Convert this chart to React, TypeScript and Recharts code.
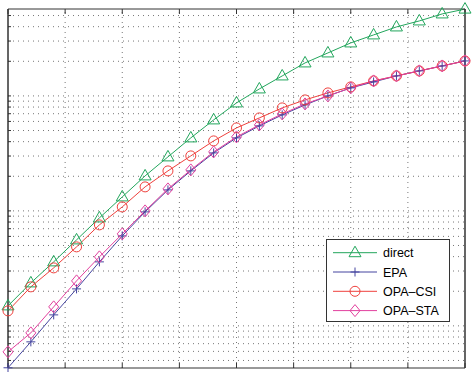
import React from 'react';
import { LineChart, Line, XAxis, YAxis, Legend, ReferenceLine } from 'recharts';

const xValues = [0, 2, 4, 6, 8, 10, 12, 14, 16, 18, 20, 22, 24, 26, 28, 30, 32, 34, 36, 38, 40];
const direct = [0.01492, 0.02365, 0.03602, 0.05595, 0.0869, 0.1323, 0.2015, 0.2949, 0.4313, 0.6184, 0.869, 1.15, 1.492, 1.936, 2.365, 2.89, 3.392, 3.981, 4.489, 5.164, 5.69];
const epa = [0.00432, 0.00726, 0.01246, 0.02097, 0.03602, 0.06061, 0.098, 0.1522, 0.2227, 0.3193, 0.4313, 0.5485, 0.6836, 0.835, 1.0, 1.174, 1.323, 1.492, 1.65, 1.823, 2.015];
const opaCsi = [0.0135, 0.02184, 0.03193, 0.04864, 0.07555, 0.1083, 0.1617, 0.2227, 0.3008, 0.4061, 0.5268, 0.6437, 0.7866, 0.9231, 1.062, 1.198, 1.35, 1.492, 1.65, 1.823, 2.015];
const opaSta = [0.00594, 0.00869, 0.01463, 0.02462, 0.03981, 0.0631, 0.1, 0.1553, 0.2272, 0.3258, 0.44, 0.5595, 0.6973, 0.8518, 1.0, 1.174, 1.35, 1.492, 1.65, 1.823, 2.015];

const xTicks = [0, 5, 10, 15, 20, 25, 30, 35, 40];
const yMajorTicks = [0.01, 0.1, 1];
const yAllTicks = [
  0.005, 0.006, 0.007, 0.008, 0.009,
  0.01, 0.02, 0.03, 0.04, 0.05, 0.06, 0.07, 0.08, 0.09,
  0.1, 0.2, 0.3, 0.4, 0.5, 0.6, 0.7, 0.8, 0.9,
  1, 2, 3, 4, 5,
];
const yDomain = [0.0043, 5.7];

const seriesNames = ['direct', 'EPA', 'OPA\u2013CSI', 'OPA\u2013STA'];
const seriesKeys = ['direct', 'epa', 'opaCsi', 'opaSta'];
const seriesColors = ['#22a65c', '#45459f', '#ef403c', '#e2409e'];
const seriesShapes = ['triangle', 'plus', 'circle', 'diamond'];

const data = xValues.map((x, i) => ({
  x,
  direct: direct[i],
  epa: epa[i],
  opaCsi: opaCsi[i],
  opaSta: opaSta[i],
}));

const FRAME = '#333333';
const GRID = '#777777';
const TINY = 0.001;

function marker(shape: string, cx: number, cy: number, color: string, key?: any) {
  if (cx == null || cy == null || isNaN(cx) || isNaN(cy)) return <g key={key} />;
  if (shape === 'triangle') {
    return (
      <path key={key} d={`M${cx},${cy - 6.5}L${cx + 6},${cy + 4}L${cx - 6},${cy + 4}Z`} fill="none" stroke={color} strokeWidth={1} />
    );
  }
  if (shape === 'plus') {
    return (
      <path key={key} d={`M${cx - 4.5},${cy}L${cx + 4.5},${cy}M${cx},${cy - 4.5}L${cx},${cy + 4.5}`} fill="none" stroke={color} strokeWidth={1} />
    );
  }
  if (shape === 'circle') {
    return <circle key={key} cx={cx} cy={cy} r={5} fill="none" stroke={color} strokeWidth={1} />;
  }
  return (
    <path key={key} d={`M${cx},${cy - 6}L${cx + 5},${cy}L${cx},${cy + 6}L${cx - 5},${cy}Z`} fill="none" stroke={color} strokeWidth={1} />
  );
}

const LegendBox = (props: any) => {
  const payload = props.payload || [];
  return (
    <div
      style={{
        width: 124,
        height: 83,
        boxSizing: 'border-box',
        border: `1px solid ${FRAME}`,
        background: '#fff',
      }}
    >
      <svg width={122} height={81} style={{ display: 'block' }}>
        {seriesKeys.map((k, i) => {
          const entry = payload.find((p: any) => p.dataKey === k);
          const color = entry ? entry.color : seriesColors[i];
          const name = entry ? entry.value : seriesNames[i];
          const y = 12.7 + i * 19.3;
          return (
            <g key={k}>
              <line x1={6} x2={50} y1={y} y2={y} stroke={color} strokeWidth={1} />
              {marker(seriesShapes[i], 28, y, color)}
              <text x={56} y={y + 4.5} fontSize={12.5} fontFamily="'Liberation Sans', Arial, sans-serif" fill="#000">
                {name}
              </text>
            </g>
          );
        })}
      </svg>
    </div>
  );
};

const EmptyTick = () => <g />;

const MajorTickLabel = (props: any) => {
  const { y, payload } = props;
  const v = payload ? payload.value : 1;
  const exp = Math.round(-Math.log10(v));
  if (exp <= 0) return <g />;
  return (
    <text x={0} y={y - 3} fontSize={9} fontFamily="'Liberation Sans', Arial, sans-serif" fill="#000">
      {String(exp)}
    </text>
  );
};

export default function App() {
  return (
    <div style={{ position: 'absolute', left: 0, top: 0, width: 474, height: 372, background: '#fff' }}>
      <LineChart width={474} height={372} data={data} margin={{ top: 9, right: 9, bottom: 4, left: 8 }}>
        <XAxis xAxisId="b" dataKey="x" type="number" domain={[0, 40]} ticks={xTicks} interval={0} orientation="bottom" mirror height={TINY} tick={EmptyTick} tickSize={5} stroke={FRAME} />
        <XAxis xAxisId="t" dataKey="x" type="number" domain={[0, 40]} ticks={xTicks} interval={0} orientation="top" mirror height={TINY} tick={EmptyTick} tickSize={5} stroke={FRAME} />
        <YAxis yAxisId="lAll" scale="log" type="number" domain={yDomain} ticks={yAllTicks} interval={0} orientation="left" mirror width={TINY} tick={EmptyTick} tickSize={3} stroke={FRAME} />
        <YAxis yAxisId="lMaj" scale="log" type="number" domain={yDomain} ticks={yMajorTicks} interval={0} orientation="left" mirror width={TINY} tick={MajorTickLabel} tickSize={5} stroke={FRAME} />
        <YAxis yAxisId="rAll" scale="log" type="number" domain={yDomain} ticks={yAllTicks} interval={0} orientation="right" mirror width={TINY} tick={EmptyTick} tickSize={3} stroke={FRAME} />
        <YAxis yAxisId="rMaj" scale="log" type="number" domain={yDomain} ticks={yMajorTicks} interval={0} orientation="right" mirror width={TINY} tick={EmptyTick} tickSize={5} stroke={FRAME} />
        {xTicks.slice(1, -1).map((v) => (
          <ReferenceLine key={`gx${v}`} xAxisId="b" yAxisId="lAll" x={v} stroke={GRID} strokeDasharray="1 4" strokeWidth={1} />
        ))}
        {yAllTicks.map((v) => (
          <ReferenceLine key={`gy${v}`} xAxisId="b" yAxisId="lAll" y={v} stroke={GRID} strokeDasharray="1 4" strokeWidth={1} />
        ))}
        {seriesKeys.map((k, i) => (
          <Line
            key={k}
            xAxisId="b"
            yAxisId="lAll"
            dataKey={k}
            name={seriesNames[i]}
            type="linear"
            stroke={seriesColors[i]}
            strokeWidth={1}
            isAnimationActive={false}
            dot={(p: any) => marker(seriesShapes[i], p.cx, p.cy, seriesColors[i], `${k}-${p.index}`)}
            activeDot={false}
          />
        ))}
        <Legend
          layout="vertical"
          align="center"
          verticalAlign="middle"
          content={<LegendBox />}
          wrapperStyle={{ left: 326, top: 239, width: 124, height: 83 }}
        />
      </LineChart>
    </div>
  );
}
